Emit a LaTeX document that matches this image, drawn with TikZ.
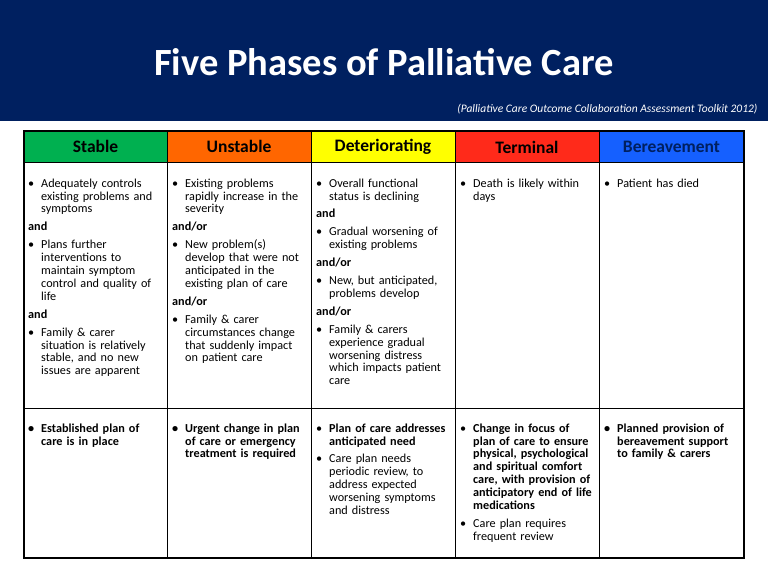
\documentclass[tikz,border=0pt]{standalone}
\usepackage{fontspec}
\setmainfont{Carlito}
\definecolor{navy}{HTML}{002060}
\definecolor{cg}{HTML}{00B050}
\definecolor{co}{HTML}{FF6600}
\definecolor{cy}{HTML}{FFFF00}
\definecolor{cr}{HTML}{FF2A1A}
\definecolor{cb}{HTML}{1560FF}
\newcommand\bul[1]{\par\hangindent=13pt\hangafter=1\noindent\makebox[13pt][l]{\textbullet}\ignorespaces#1\par\vspace{5pt}}
\newcommand\conj[1]{\par\noindent\textbf{#1}\par\vspace{5pt}}
\newcommand\nl{\newline}
\tikzset{
  cell/.style={anchor=north west,text width=140pt,inner sep=0pt,font=\fontsize{12.2}{12.9}\selectfont},
  hdr/.style={font=\fontsize{17.5}{20}\selectfont\bfseries,text=black},
}
\begin{document}
\begin{tikzpicture}[x=1pt,y=-1pt]
\useasboundingbox (0,0) rectangle (768,576);
\fill[navy] (0,0) rectangle (768,121);
\node[font=\fontsize{38.5}{44}\selectfont\bfseries,text=white] (title) at (384,62) {Five Phases of Palliative Care};
\node[anchor=east,font=\fontsize{11.5}{12}\selectfont\itshape,text=white] (src) at (761,109) {(Palliative Care Outcome Collaboration Assessment Toolkit 2012)};
\fill[cg] (24,131) rectangle (167,162);
\fill[co] (167,131) rectangle (311,162);
\fill[cy] (311,131) rectangle (455,162);
\fill[cr] (455,131) rectangle (599,162);
\fill[cb] (599,131) rectangle (744,162);
\draw[line width=1.2pt] (24,131) rectangle (744,558);
\draw[line width=0.8pt] (24,162) -- (744,162) (24,408) -- (744,408);
\foreach \x in {167,311,455,599} \draw[line width=0.8pt] (\x,131) -- (\x,558);
\node[hdr] (h1) at (95.5,146) {Stable};
\node[hdr] (h2) at (239,146) {Unstable};
\node[hdr] (h3) at (383,147) {Deteriorating};
\node[hdr] (h4) at (527,147) {Terminal};
\node[hdr,text=navy] (h5) at (671.5,147) {Bereavement};
% row 2
\node[cell] (a1) at (28,174) {
\bul{Adequately controls\nl existing problems and\nl symptoms}
\conj{and}
\bul{Plans further\nl interventions to\nl maintain symptom\nl control and quality of\nl life}
\conj{and}
\bul{Family \& carer\nl situation is relatively\nl stable, and no new\nl issues are apparent}};
\node[cell] (a2) at (172,174) {
\bul{Existing problems\nl rapidly increase in the\nl severity}
\conj{and/or}
\bul{New problem(s)\nl develop that were not\nl anticipated in the\nl existing plan of care}
\conj{and/or}
\bul{Family \& carer\nl circumstances change\nl that suddenly impact\nl on patient care}};
\node[cell] (a3) at (316,174) {
\bul{Overall functional\nl status is declining}
\conj{and}
\bul{Gradual worsening of\nl existing problems}
\conj{and/or}
\bul{New, but anticipated,\nl problems develop}
\conj{and/or}
\bul{Family \& carers\nl experience gradual\nl worsening distress\nl which impacts patient\nl care}};
\node[cell] (a4) at (460,174) {\bul{Death is likely within\nl days}};
\node[cell] (a5) at (604,174) {\bul{Patient has died}};
% row 3
\node[cell] (b1) at (28,419) {\bfseries\bul{Established plan of\nl care is in place}};
\node[cell] (b2) at (172,419) {\bfseries\bul{Urgent change in plan\nl of care or emergency\nl treatment is required}};
\node[cell] (b3) at (316,419) {\bul{\textbf{Plan of care addresses\nl anticipated need}}
\bul{Care plan needs\nl periodic review, to\nl address expected\nl worsening symptoms\nl and distress}};
\node[cell] (b4) at (460,419) {\bul{\textbf{Change in focus of\nl plan of care to ensure\nl physical, psychological\nl and spiritual comfort\nl care, with provision of\nl anticipatory end of life\nl medications}}
\bul{Care plan requires\nl frequent review}};
\node[cell] (b5) at (604,419) {\bfseries\bul{Planned provision of\nl bereavement support\nl to family \& carers}};
\end{tikzpicture}
\end{document}
